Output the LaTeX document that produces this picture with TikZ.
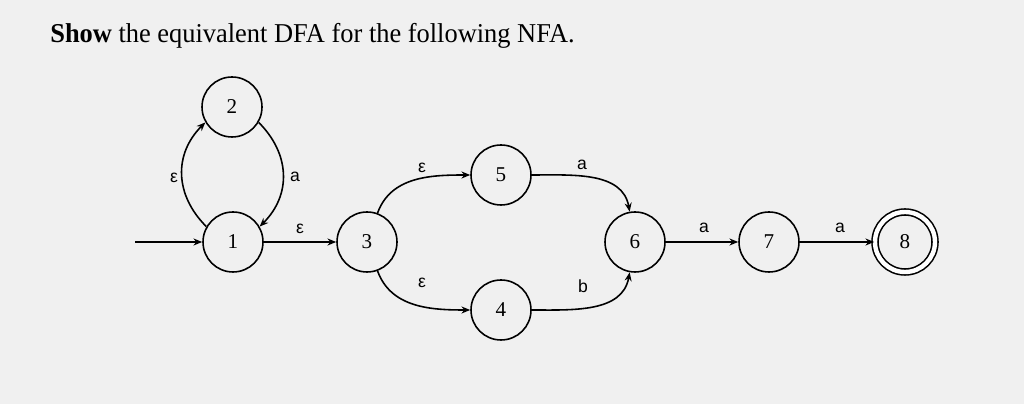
\documentclass[tikz,border=0pt]{standalone}
\usepackage{fontspec}
\setmainfont{Liberation Serif}
\newfontfamily\lab{Liberation Sans}
\usetikzlibrary{arrows.meta}
\begin{document}
\begin{tikzpicture}[x=0.02cm,y=-0.02cm,
  st/.style={circle,draw,line width=0.9pt,minimum size=1.2cm,inner sep=0pt,font=\fontsize{12}{14}\selectfont},
  ed/.style={line width=0.9pt,-{Stealth[length=5pt,width=4pt]}},
  lb/.style={font=\lab\fontsize{10}{12}\selectfont}]
\fill[gray!12] (0,0) rectangle (1024,404);
\useasboundingbox (0,0) rectangle (1024,404);
\node[anchor=base west,inner sep=0pt,font=\fontsize{15.5}{18}\selectfont,xscale=0.97] (t) at (50,43) {\textbf{Show} the equivalent DFA for the following NFA.};
\node[st] (n1) at (233,242) {1};
\node[st] (n2) at (232,107) {2};
\node[st] (n3) at (367,242) {3};
\node[st] (n5) at (501,175) {5};
\node[st] (n4) at (501,310) {4};
\node[st] (n6) at (635,242) {6};
\node[st] (n7) at (769,242) {7};
\node[st,double,double distance=2.5pt] (n8) at (905,242) {8};
\coordinate (s) at (135,242);
\draw[ed] (s) -- (n1);
\draw[ed] (n1.150) to[out=135,in=225,looseness=1.1] (n2.210);
\draw[ed] (n2.330) to[out=315,in=45,looseness=1.1] (n1.30);
\draw[ed] (n1) -- (n3);
\draw[ed] (n3.70) to[out=70,in=180] (n5.180);
\draw[ed] (n3.290) to[out=290,in=180] (n4.180);
\draw[ed] (n5.0) to[out=0,in=100] (n6.100);
\draw[ed] (n4.0) to[out=0,in=260] (n6.260);
\draw[ed] (n6) -- (n7);
\draw[ed] (n7) -- (n8);
\node[lb] (l1) at (174,178) {ε};
\node[lb] (l2) at (295,177) {a};
\node[lb] (l3) at (300,229) {ε};
\node[lb] (l4) at (422,168) {ε};
\node[lb] (l5) at (422,283) {ε};
\node[lb] (l6) at (582,165) {a};
\node[lb] (l7) at (583,286) {b};
\node[lb] (l8) at (704,228) {a};
\node[lb] (l9) at (840,228) {a};
\end{tikzpicture}
\end{document}
